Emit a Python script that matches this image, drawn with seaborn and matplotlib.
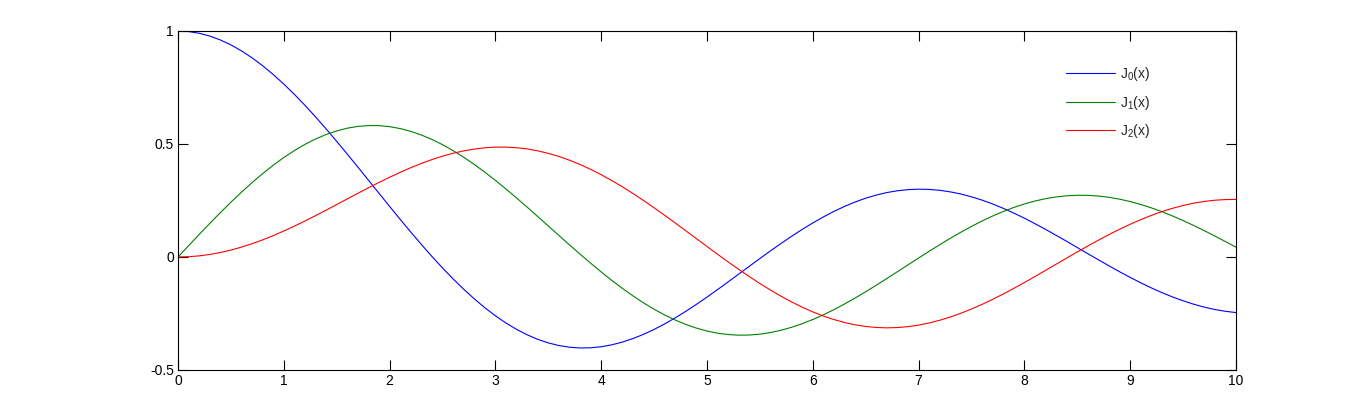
import numpy as np
import pandas as pd
import matplotlib
matplotlib.use("Agg")
import matplotlib.pyplot as plt
import seaborn as sns

x_vals = [round(0.1 * i, 1) for i in range(101)]

j0_vals = [1.0000, 0.9975, 0.9900, 0.9776, 0.9604, 0.9385, 0.9120, 0.8812, 0.8463, 0.8075,
           0.7652, 0.7196, 0.6711, 0.6201, 0.5669, 0.5118, 0.4554, 0.3980, 0.3400, 0.2818,
           0.2239, 0.1666, 0.1104, 0.0555, 0.0025, -0.0484, -0.0968, -0.1424, -0.1850, -0.2243,
           -0.2601, -0.2921, -0.3202, -0.3443, -0.3643, -0.3801, -0.3918, -0.3992, -0.4026, -0.4018,
           -0.3971, -0.3887, -0.3766, -0.3610, -0.3423, -0.3205, -0.2961, -0.2693, -0.2404, -0.2097,
           -0.1776, -0.1443, -0.1103, -0.0758, -0.0412, -0.0068, 0.0270, 0.0599, 0.0917, 0.1220,
           0.1506, 0.1773, 0.2017, 0.2238, 0.2433, 0.2601, 0.2740, 0.2851, 0.2930, 0.2981,
           0.3001, 0.2991, 0.2951, 0.2882, 0.2786, 0.2663, 0.2516, 0.2346, 0.2154, 0.1944,
           0.1717, 0.1475, 0.1222, 0.0960, 0.0692, 0.0419, 0.0146, -0.0125, -0.0392, -0.0653,
           -0.0903, -0.1142, -0.1367, -0.1577, -0.1768, -0.1939, -0.2090, -0.2218, -0.2323, -0.2403,
           -0.2459]

j1_vals = [0.0000, 0.0499, 0.0995, 0.1483, 0.1960, 0.2423, 0.2867, 0.3290, 0.3688, 0.4059,
           0.4401, 0.4709, 0.4983, 0.5220, 0.5419, 0.5579, 0.5699, 0.5778, 0.5815, 0.5812,
           0.5767, 0.5683, 0.5560, 0.5399, 0.5202, 0.4971, 0.4708, 0.4416, 0.4097, 0.3754,
           0.3391, 0.3009, 0.2613, 0.2207, 0.1792, 0.1374, 0.0955, 0.0538, 0.0128, -0.0272,
           -0.0660, -0.1033, -0.1386, -0.1719, -0.2028, -0.2311, -0.2566, -0.2791, -0.2985, -0.3147,
           -0.3276, -0.3371, -0.3432, -0.3460, -0.3453, -0.3414, -0.3343, -0.3241, -0.3110, -0.2951,
           -0.2767, -0.2559, -0.2329, -0.2081, -0.1816, -0.1538, -0.1250, -0.0953, -0.0652, -0.0349,
           -0.0047, 0.0252, 0.0543, 0.0826, 0.1096, 0.1352, 0.1592, 0.1813, 0.2014, 0.2192,
           0.2346, 0.2476, 0.2580, 0.2657, 0.2708, 0.2731, 0.2728, 0.2697, 0.2641, 0.2559,
           0.2453, 0.2324, 0.2174, 0.2004, 0.1816, 0.1613, 0.1395, 0.1166, 0.0928, 0.0684,
           0.0435]

j2_vals = [0.0000, 0.0012, 0.0050, 0.0112, 0.0197, 0.0306, 0.0437, 0.0588, 0.0757, 0.0945,
           0.1150, 0.1366, 0.1594, 0.1830, 0.2072, 0.2321, 0.2570, 0.2818, 0.3061, 0.3300,
           0.3528, 0.3746, 0.3951, 0.4140, 0.4310, 0.4461, 0.4590, 0.4695, 0.4776, 0.4832,
           0.4862, 0.4862, 0.4835, 0.4781, 0.4697, 0.4586, 0.4449, 0.4283, 0.4093, 0.3879,
           0.3641, 0.3383, 0.3106, 0.2810, 0.2501, 0.2178, 0.1845, 0.1505, 0.1160, 0.0813,
           0.0466, 0.0121, -0.0217, -0.0548, -0.0867, -0.1173, -0.1464, -0.1736, -0.1989, -0.2220,
           -0.2428, -0.2612, -0.2768, -0.2899, -0.3001, -0.3074, -0.3119, -0.3135, -0.3122, -0.3082,
           -0.3014, -0.2920, -0.2800, -0.2656, -0.2490, -0.2302, -0.2097, -0.1875, -0.1638, -0.1389,
           -0.1130, -0.0864, -0.0593, -0.0320, -0.0047, 0.0224, 0.0488, 0.0745, 0.0992, 0.1228,
           0.1448, 0.1653, 0.1840, 0.2008, 0.2154, 0.2279, 0.2381, 0.2458, 0.2512, 0.2541,
           0.2546]

series_labels = [r"J$_0$(x)", r"J$_1$(x)", r"J$_2$(x)"]
x_ticks = [0, 1, 2, 3, 4, 5, 6, 7, 8, 9, 10]
y_ticks = [-0.5, 0, 0.5, 1]
y_tick_labels = ["-0.5", "0", "0.5", "1"]

n = len(x_vals)
df = pd.DataFrame({
    "x": x_vals * 3,
    "y": j0_vals + j1_vals + j2_vals,
    "series": [series_labels[0]] * n + [series_labels[1]] * n + [series_labels[2]] * n,
})

sns.set_theme(style="white")
plt.rcParams["font.family"] = ["Liberation Sans", "DejaVu Sans"]
plt.rcParams["mathtext.fontset"] = "custom"
plt.rcParams["mathtext.rm"] = "Liberation Sans"
plt.rcParams["mathtext.it"] = "Liberation Sans"

fig = plt.figure(figsize=(13.66, 4.16), dpi=100)
fig.patch.set_facecolor("white")
ax = fig.add_axes([0.1303, 0.1106, 0.7745, 0.8149])

palette = {series_labels[0]: "#0000ff", series_labels[1]: "#008000", series_labels[2]: "#ff0000"}
sns.lineplot(data=df, x="x", y="y", hue="series", palette=palette, ax=ax,
             linewidth=0.8, hue_order=series_labels)

ax.set_xlim(0, 10)
ax.set_ylim(-0.5, 1)
ax.set_xticks(x_ticks)
ax.set_xticklabels([str(t) for t in x_ticks])
ax.set_yticks(y_ticks)
ax.set_yticklabels(y_tick_labels)
ax.set_xlabel("")
ax.set_ylabel("")
ax.tick_params(direction="in", length=7.5, width=0.8, color="black", labelsize=10,
               top=True, right=True, bottom=True, left=True, pad=3, labelcolor="black")
for s in ax.spines.values():
    s.set_visible(True)
    s.set_color("black")
    s.set_linewidth(0.8)

leg = ax.legend(loc="upper left", bbox_to_anchor=(0.8395, 0.899), frameon=False,
                fontsize=10, handlelength=3.5, handletextpad=0.4, labelspacing=0.75,
                borderpad=0, borderaxespad=0)

fig.savefig("out.png", dpi=100, facecolor="white")
